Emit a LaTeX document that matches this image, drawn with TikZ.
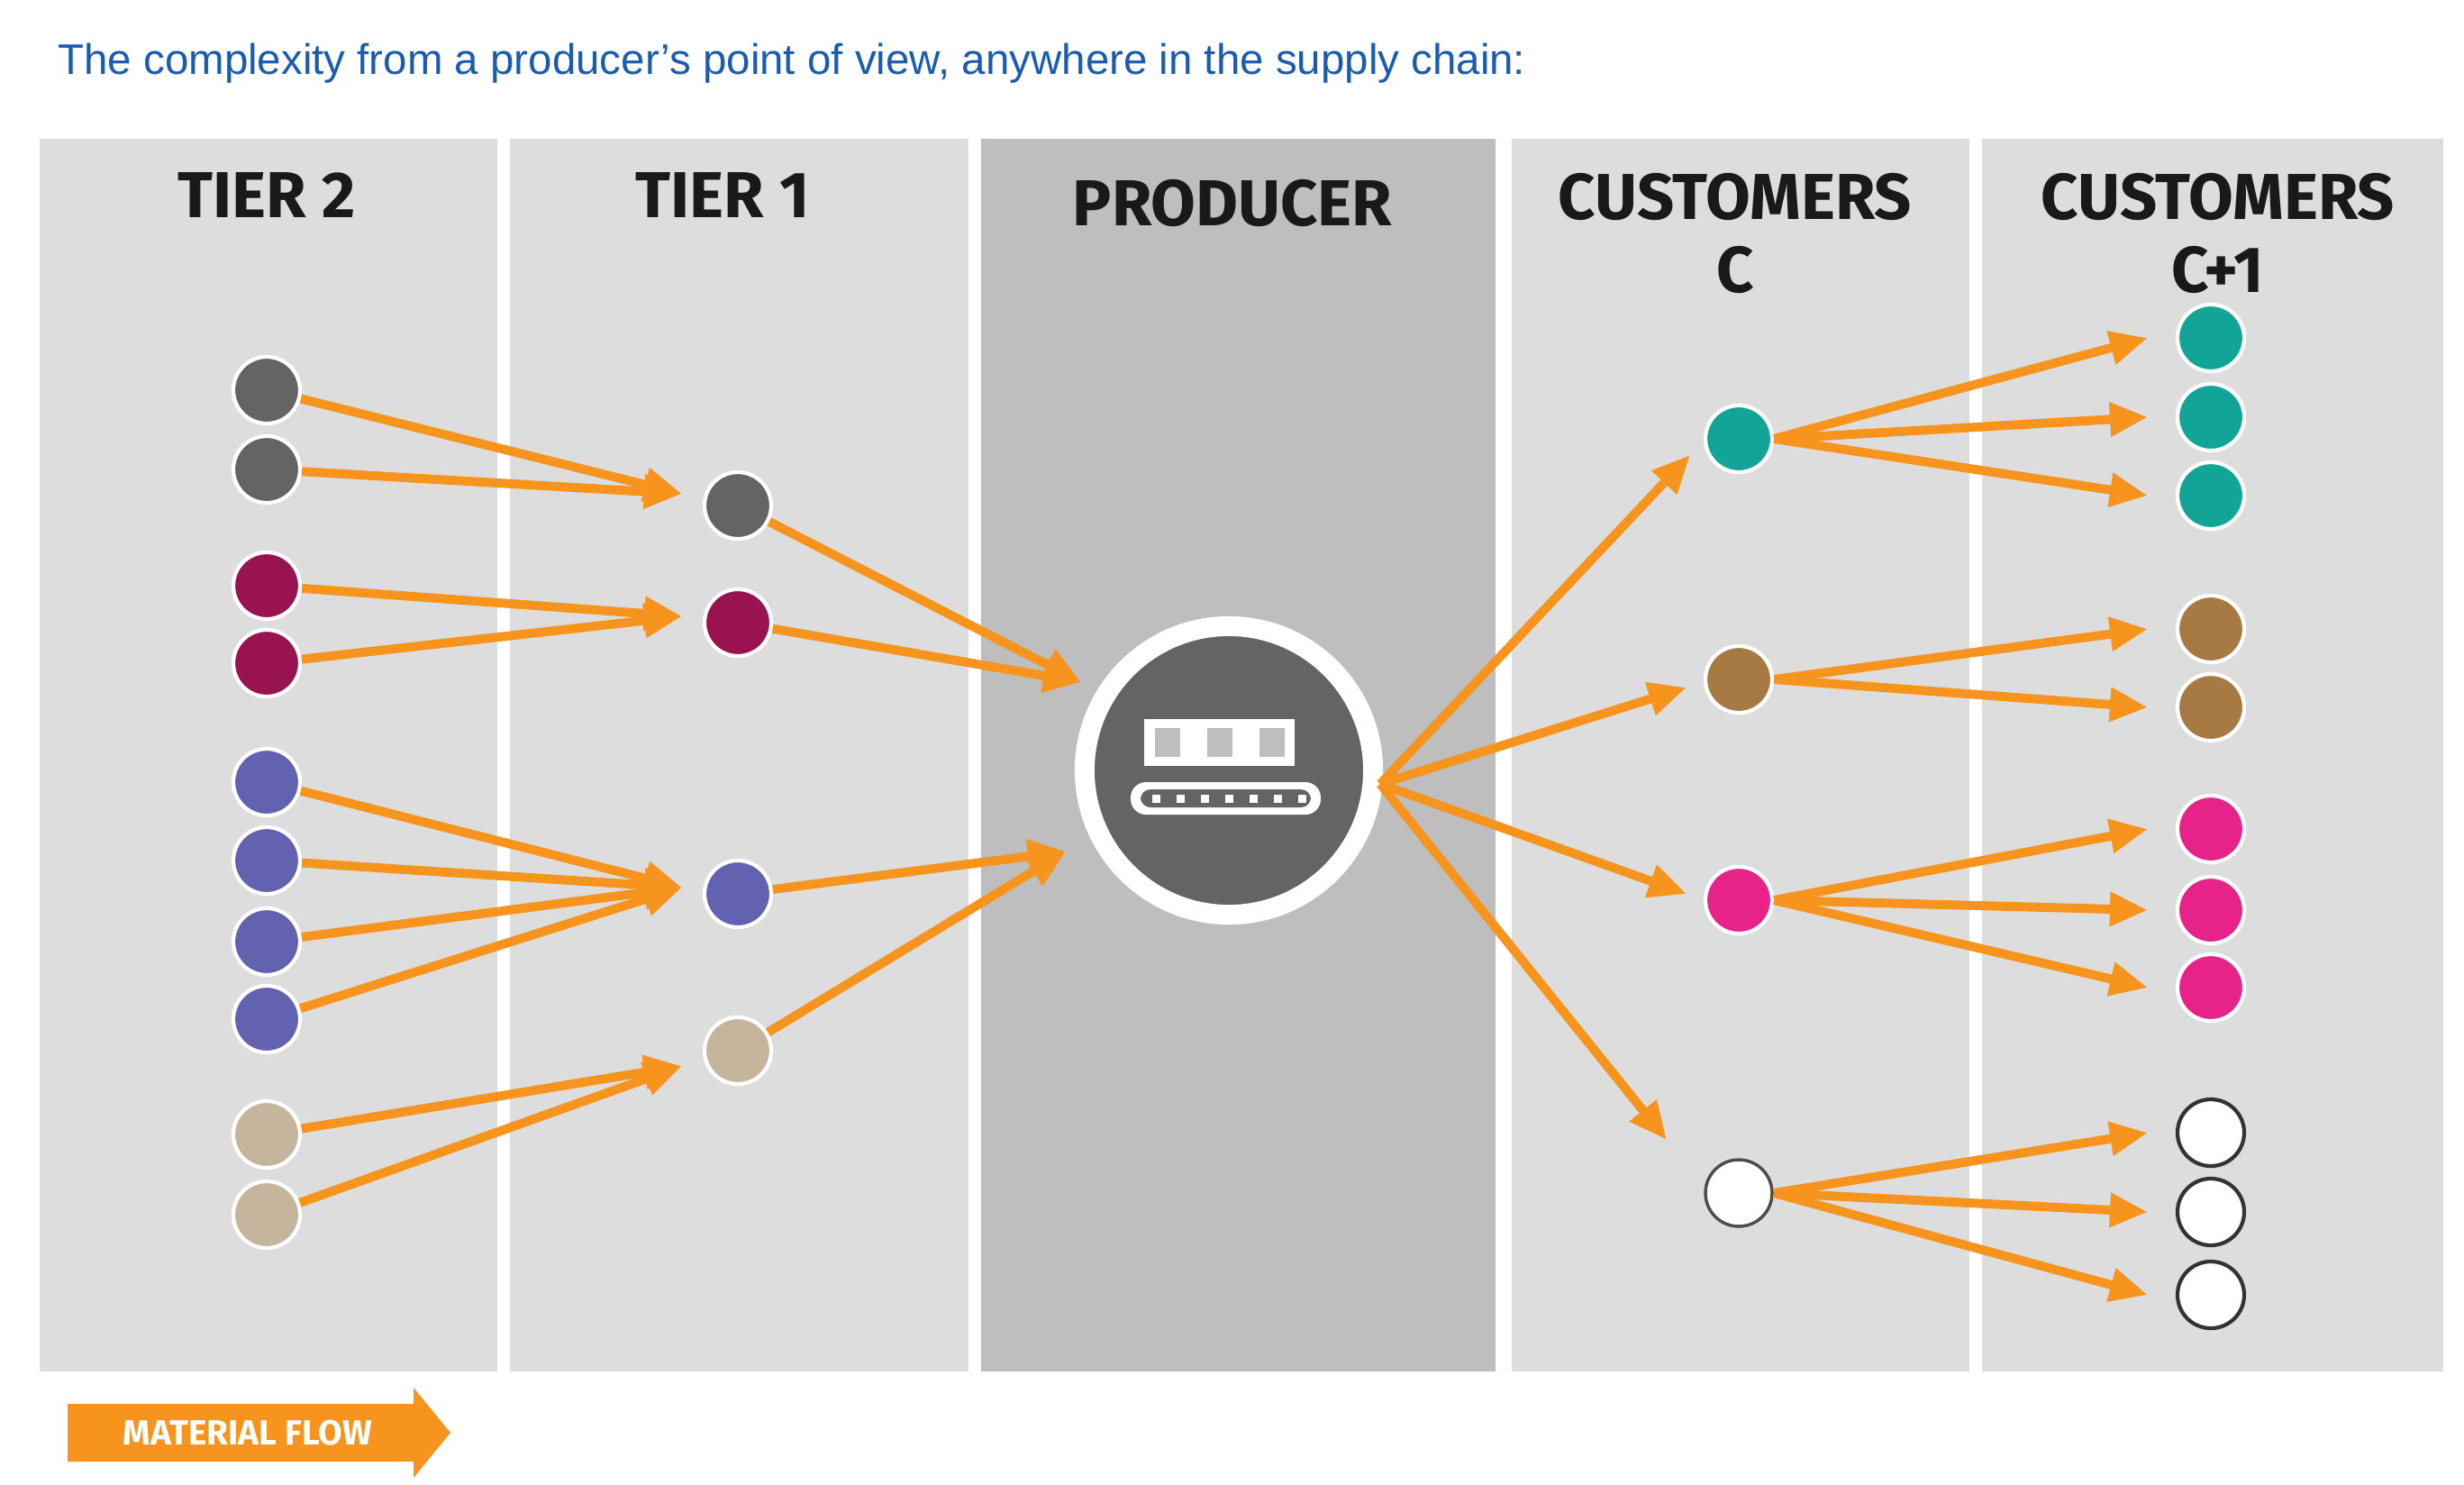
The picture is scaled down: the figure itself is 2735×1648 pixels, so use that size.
\documentclass[tikz,border=0pt]{standalone}
\usepackage{fontspec}
\setmainfont{Liberation Sans}
\newfontfamily\hdr{Fira Sans}
\usetikzlibrary{arrows.meta}
\definecolor{panel}{HTML}{DDDDDE}
\definecolor{prodp}{HTML}{BEBEBE}
\definecolor{org}{HTML}{F7941D}
\definecolor{ttl}{HTML}{1A5CB0}
\definecolor{cgray}{HTML}{646467}
\definecolor{cmar}{HTML}{98134F}
\definecolor{cblu}{HTML}{6262B0}
\definecolor{ctan}{HTML}{C4B59C}
\definecolor{cteal}{HTML}{12A597}
\definecolor{cbrn}{HTML}{A77A44}
\definecolor{cpnk}{HTML}{E7238A}
\tikzset{
 dot/.style={circle,minimum size=0.74cm,inner sep=0,draw=white,line width=1.2pt,fill=#1},
 flow/.style={draw=org,line width=0.1cm,-{Triangle[length=0.42cm,width=0.36cm]}},
 hd/.style={font=\hdr\bfseries\fontsize{20.5}{25}\selectfont,align=center,text=black!90}
}
\begin{document}
\begin{tikzpicture}[x=0.01cm,y=-0.01cm]
\fill[white] (0,0) rectangle (2735,1648);
\useasboundingbox (0,0) rectangle (2735,1648);
\node[anchor=west,text=ttl,font=\fontsize{13.5}{16}\selectfont] (title) at (52,70) {The complexity from a producer’s point of view, anywhere in the supply chain:};
\fill[panel] (44,154) rectangle (552,1522);
\fill[panel] (566,154) rectangle (1075,1522);
\fill[prodp] (1089,154) rectangle (1660,1522);
\fill[panel] (1678,154) rectangle (2186,1522);
\fill[panel] (2200,154) rectangle (2712,1522);
\node[hd] (h1) at (296,217) {TIER 2};
\node[hd] (h2) at (802,217) {TIER 1};
\node[hd] (h3) at (1368,226) {PRODUCER};
\node[hd,anchor=north] (h4) at (1926,180) {CUSTOMERS\\[-2pt]C};
\node[hd,anchor=north] (h5) at (2462,180) {CUSTOMERS\\[-2pt]C+1};
% tier 2
\foreach \n/\y/\c in {a/433/cgray,b/521/cgray,c/650/cmar,d/736/cmar,e/868/cblu,f/955/cblu,g/1045/cblu,h/1131/cblu,i/1259/ctan,j/1348/ctan}
  \node[dot=\c] (t2\n) at (296,\y) {};
% tier 1
\foreach \n/\y/\c in {a/561/cgray,b/691/cmar,c/992/cblu,d/1166/ctan}
  \node[dot=\c] (t1\n) at (819,\y) {};
\coordinate (ka) at (757,548);
\coordinate (kb) at (757,684);
\coordinate (kc) at (757,985);
\coordinate (kd) at (757,1183);
\foreach \s/\t in {a/a,b/a,c/b,d/b,e/c,f/c,g/c,h/c,i/d,j/d}
  \draw[flow] (t2\s) -- (k\t);
% producer
\node[circle,fill=cgray,draw=white,line width=0.22cm,minimum size=3.2cm] (prod) at (1364,855) {};
\coordinate (pin1) at (1200,757);
\coordinate (pin2) at (1183,945);
\draw[flow] (t1a) -- (pin1);
\draw[flow] (t1b) -- (pin1);
\draw[flow] (t1c) -- (pin2);
\draw[flow] (t1d) -- (pin2);
% icon
\fill[white] (1270,798) rectangle (1437,850);
\foreach \xx in {1282,1340,1398} \fill[prodp] (\xx,808) rectangle ++(28,32);
\fill[white,rounded corners=0.17cm] (1255,868) rectangle (1466,904);
\fill[cgray,rounded corners=0.11cm] (1266,876) rectangle (1455,896);
\foreach \k in {0,...,6} \fill[white] (1279+\k*27,882) rectangle ++(9,9);
% customers C
\foreach \n/\y/\c in {a/487/cteal,b/754/cbrn,c/999/cpnk,d/1324/white}
  \node[dot=\c] (cc\n) at (1930,\y) {};
\draw[draw=black!70,line width=1pt] (ccd) circle (0.37cm);
\coordinate (po) at (1532,870);
\coordinate (qa) at (1876,505);
\coordinate (qb) at (1872,763);
\coordinate (qc) at (1872,992);
\coordinate (qd) at (1850,1265);
\foreach \t in {a,b,c,d} \draw[flow] (po) -- (q\t);
% customers C+1
\coordinate (col) at (2384,0);
\foreach \n/\y/\c in {a/375/cteal,b/463/cteal,c/550/cteal,d/698/cbrn,e/785/cbrn,f/920/cpnk,g/1010/cpnk,h/1096/cpnk,i/1257/white,j/1345/white,k/1437/white}
  \node[dot=\c] (cd\n) at (2454,\y) {};
\foreach \n in {i,j,k} \draw[draw=black!80,line width=1.2pt] (cd\n) circle (0.37cm);
\foreach \s/\t in {a/a,a/b,a/c,b/d,b/e,c/f,c/g,c/h,d/i,d/j,d/k}
  \draw[flow] (cc\s.east) -- (col|-cd\t);
% material flow
\fill[org] (75,1558) -- (459,1558) -- (459,1540) -- (500,1590) -- (459,1640) -- (459,1622) -- (75,1622) -- cycle;
\node[text=white,font=\hdr\bfseries\fontsize{11}{13}\selectfont] (mf) at (275,1590) {MATERIAL FLOW};
\end{tikzpicture}
\end{document}
